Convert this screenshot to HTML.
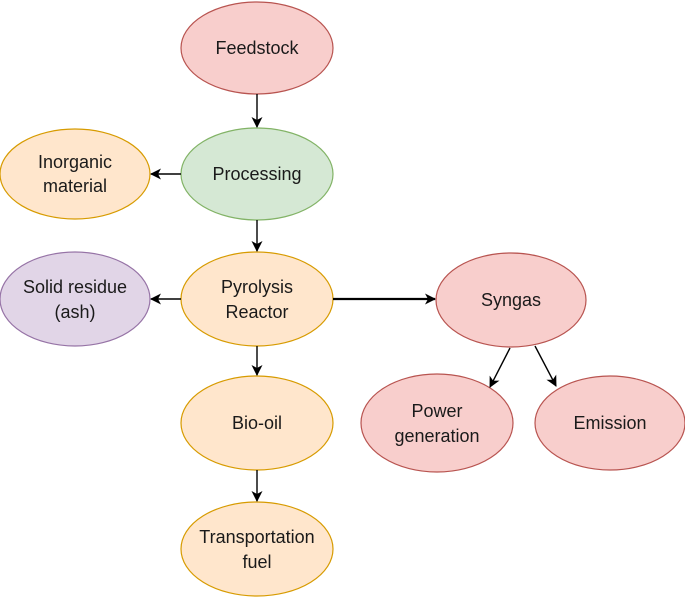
<!DOCTYPE html>
<html><head><meta charset="utf-8"><style>body{margin:0;background:#fff}svg{display:block}</style></head><body>
<svg width="685" height="598" viewBox="0 0 685 598" xmlns="http://www.w3.org/2000/svg" font-family="Liberation Sans, Arial, sans-serif" font-size="18" fill="#000">
<defs><marker id="a" markerWidth="12" markerHeight="12" refX="10" refY="6" orient="auto" markerUnits="userSpaceOnUse"><path d="M0,0.5 L11,6 L0,11.5 L3,6 Z" fill="#000"/></marker></defs>
<g stroke-width="1.2">
<ellipse cx="257" cy="48" rx="76" ry="46" fill="#f8cecc" stroke="#b85450"/>
<ellipse cx="257" cy="174" rx="76" ry="46" fill="#d5e8d4" stroke="#82b366"/>
<ellipse cx="75" cy="174" rx="75" ry="45" fill="#ffe6cc" stroke="#d79b00"/>
<ellipse cx="257" cy="299" rx="76" ry="47" fill="#ffe6cc" stroke="#d79b00"/>
<ellipse cx="75" cy="299" rx="75" ry="47" fill="#e1d5e7" stroke="#9673a6"/>
<ellipse cx="511" cy="300" rx="75" ry="47" fill="#f8cecc" stroke="#b85450"/>
<ellipse cx="437" cy="423" rx="76" ry="49" fill="#f8cecc" stroke="#b85450"/>
<ellipse cx="610" cy="423" rx="75" ry="47" fill="#f8cecc" stroke="#b85450"/>
<ellipse cx="257" cy="423" rx="76" ry="47" fill="#ffe6cc" stroke="#d79b00"/>
<ellipse cx="257" cy="549" rx="76" ry="47" fill="#ffe6cc" stroke="#d79b00"/>
</g>
<g stroke="#000" stroke-width="1.4" marker-end="url(#a)">
<line x1="257" y1="94" x2="257" y2="127"/>
<line x1="181" y1="174" x2="151" y2="174"/>
<line x1="257" y1="220" x2="257" y2="251"/>
<line x1="181" y1="299" x2="151" y2="299"/>
<line x1="333" y1="299" x2="435" y2="299" stroke-width="2.2"/>
<line x1="257" y1="346" x2="257" y2="375"/>
<line x1="257" y1="470" x2="257" y2="501"/>
<line x1="510" y1="348" x2="490" y2="387"/>
<line x1="535" y1="346" x2="556" y2="386"/>
</g>
<g text-anchor="middle" fill="#1a1a1a">
<text x="257" y="54">Feedstock</text>
<text x="257" y="180">Processing</text>
<text x="75" y="168">Inorganic</text><text x="75" y="192">material</text>
<text x="257" y="293">Pyrolysis</text><text x="257" y="318">Reactor</text>
<text x="75" y="293">Solid residue</text><text x="75" y="318">(ash)</text>
<text x="511" y="306">Syngas</text>
<text x="437" y="417">Power</text><text x="437" y="442">generation</text>
<text x="610" y="429">Emission</text>
<text x="257" y="429">Bio-oil</text>
<text x="257" y="543">Transportation</text><text x="257" y="568">fuel</text>
</g>
</svg>
</body></html>
